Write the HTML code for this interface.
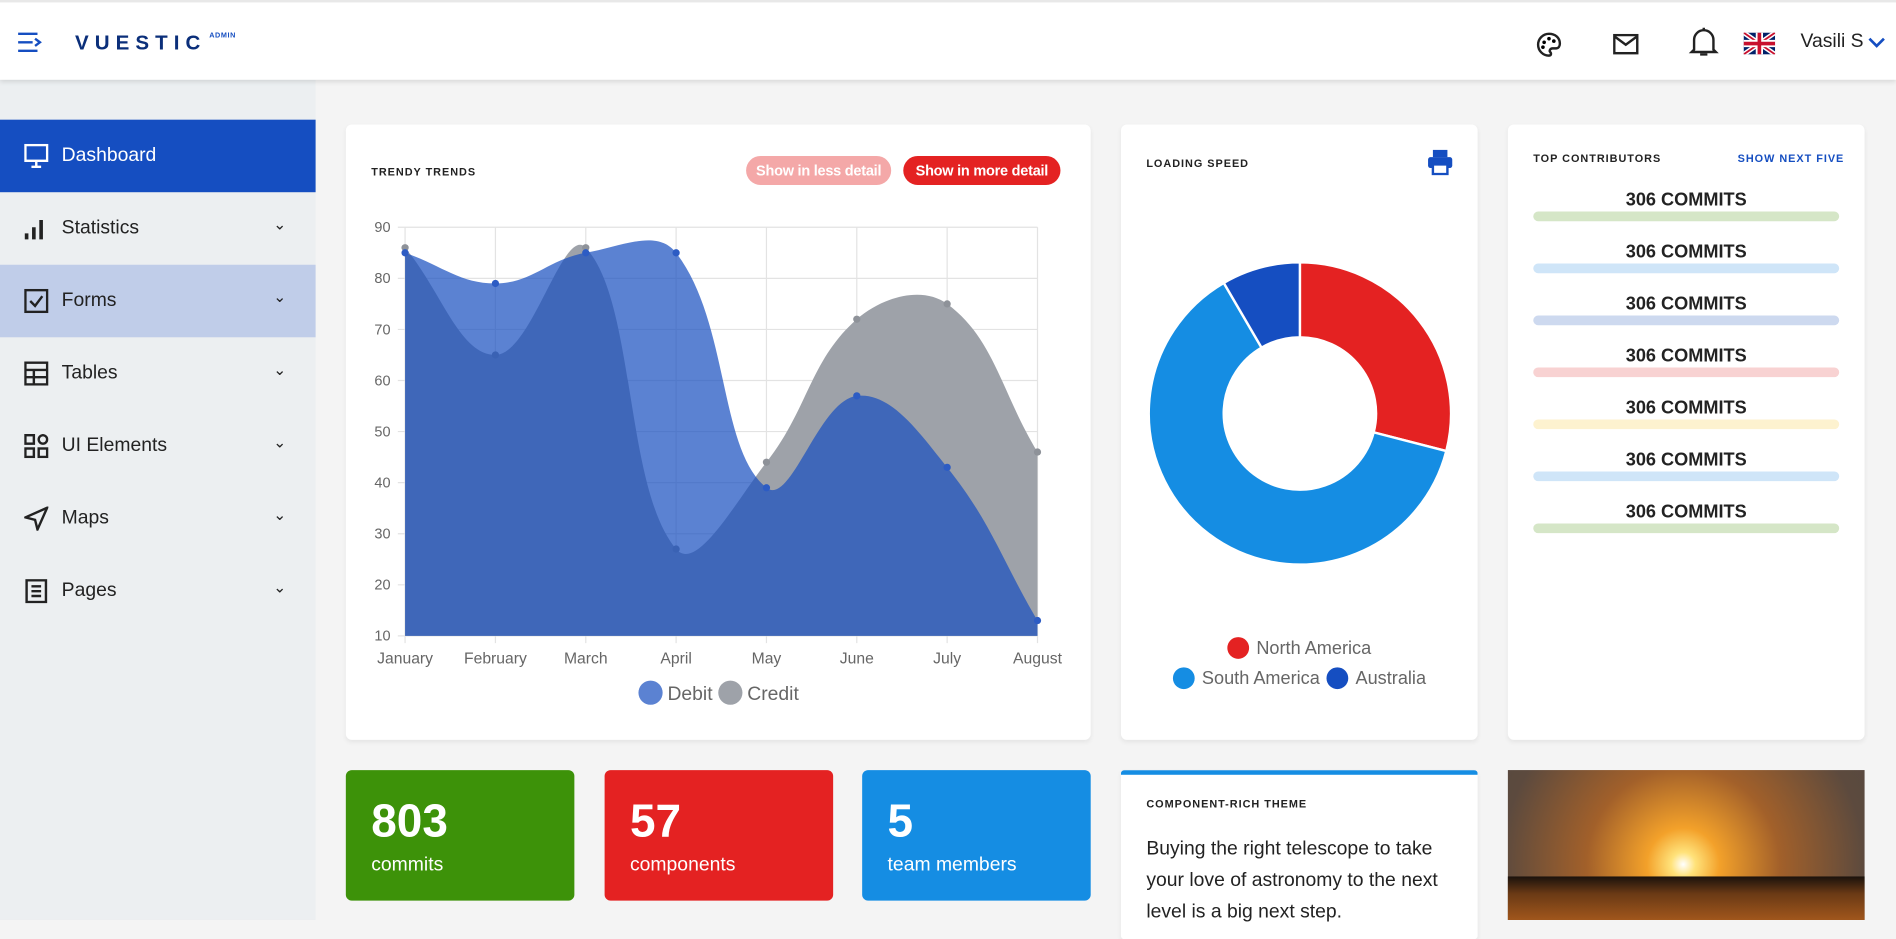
<!DOCTYPE html>
<html><head><meta charset="utf-8">
<style>
*{box-sizing:border-box;margin:0;padding:0}
html,body{width:1896px;height:920px;overflow:hidden;background:#f4f4f4;font-family:"Liberation Sans",sans-serif}
#root{position:absolute;left:0;top:0;width:1568px;height:761px;transform:scale(1.2092,1.2089);transform-origin:0 0;background:#f4f4f4}
.abs{position:absolute}
.hdr{left:0;top:0;width:1568px;height:66px;background:#fff;border-top:2px solid #e8e8e8;box-shadow:0 2px 4px rgba(0,0,0,.12);z-index:2}
.side{left:0;top:66px;width:261px;height:695px;background:#eceff1}
.nav{position:absolute;left:0;width:261px;height:60px;display:flex;align-items:center;font-size:16px;color:#222}
.nav svg{position:absolute;left:20px;top:20px}
.nav span.t{position:absolute;left:51px}
.nav span.c{position:absolute;left:226px;top:19px;font-size:13px}
.card{position:absolute;background:#fff;border-radius:5px;box-shadow:0 2px 4px rgba(0,0,0,.06)}
.ttl{position:absolute;font-size:9px;font-weight:bold;letter-spacing:.8px;color:#222}
.btn{position:absolute;height:24px;border-radius:12px;color:#fff;font-size:12px;font-weight:bold;display:flex;align-items:center;justify-content:center;letter-spacing:-.2px}
.cm{position:absolute;left:1268px;width:253px;text-align:center;font-size:15px;font-weight:bold;color:#222}
.bar{position:absolute;left:1268px;width:253px;height:8px;border-radius:4px}
.stat{position:absolute;top:637px;width:189px;height:108px;border-radius:5px;color:#fff}
.stat b{position:absolute;left:21px;top:22px;font-size:38px}
.stat span{position:absolute;left:21px;top:70px;font-size:16px}
</style></head><body>
<div id="root">
<div class="abs hdr">
  <svg class="abs" style="left:14px;top:24px" width="24" height="20"><path d="M1 2h16M1 9h12M1 16h16M15 6l4 3-4 3" stroke="#154ec1" stroke-width="2" fill="none"/></svg>
  <div class="abs" style="left:62px;top:24px;font-size:17px;font-weight:bold;letter-spacing:5px;color:#0b2f7a">VUESTIC</div>
  <div class="abs" style="left:173px;top:25px;font-size:6px;font-weight:bold;color:#154ec1;letter-spacing:.5px">ADMIN</div>
  <svg class="abs" style="left:1270px;top:24px" width="22" height="22"><path d="M11 2a9 9 0 1 0 0 18c2 0 2-2 1-3s0-3 2-3h3c2 0 3-2 3-4 0-5-4-8-9-8z" stroke="#222" stroke-width="2" fill="none"/><circle cx="7" cy="9" r="1.5"/><circle cx="11" cy="6" r="1.5"/><circle cx="15" cy="8" r="1.5"/><circle cx="6" cy="13" r="1.5"/></svg>
  <svg class="abs" style="left:1334px;top:26px" width="22" height="18"><rect x="1" y="1" width="19" height="15" stroke="#222" stroke-width="2" fill="none"/><path d="M1 2l9.5 7L20 2" stroke="#222" stroke-width="2" fill="none"/></svg>
  <svg class="abs" style="left:1396px;top:20px" width="26" height="26"><path d="M5 19V11a8 8 0 0 1 16 0v8l2 2H3z" stroke="#222" stroke-width="2" fill="none"/><path d="M10 23h6M13 1v2" stroke="#222" stroke-width="2"/></svg>
  <svg class="abs" style="left:1442px;top:25px" width="26" height="18"><rect width="26" height="18" fill="#012169"/><path d="M0 0l26 18M26 0L0 18" stroke="#fff" stroke-width="4"/><path d="M0 0l26 18M26 0L0 18" stroke="#c8102e" stroke-width="1.5"/><path d="M13 0v18M0 9h26" stroke="#fff" stroke-width="6"/><path d="M13 0v18M0 9h26" stroke="#c8102e" stroke-width="3"/></svg>
  <div class="abs" style="left:1489px;top:24px;font-size:16px;color:#222">Vasili S</div>
  <svg class="abs" style="left:1545px;top:28px" width="14" height="10"><path d="M1 2l6 6 6-6" stroke="#154ec1" stroke-width="2.2" fill="none"/></svg>
</div>

<div class="abs side">
  <div class="nav" style="top:33px;background:#154ec1;color:#fff"><svg width="20" height="20"><rect x="1" y="1" width="18" height="13" stroke="#fff" stroke-width="2" fill="none"/><path d="M10 14v4M6 19h8" stroke="#fff" stroke-width="2"/></svg><span class="t">Dashboard</span></div>
  <div class="nav" style="top:93px"><svg width="20" height="20"><path d="M2 19v-5M8 19V9M14 19V3" stroke="#222" stroke-width="3"/></svg><span class="t">Statistics</span><span class="c">⌄</span></div>
  <div class="nav" style="top:153px;background:#c0cde9"><svg width="20" height="20"><rect x="1" y="1" width="18" height="18" stroke="#222" stroke-width="2" fill="none"/><path d="M5 10l4 4 6-8" stroke="#222" stroke-width="2" fill="none"/></svg><span class="t">Forms</span><span class="c">⌄</span></div>
  <div class="nav" style="top:213px"><svg width="20" height="20"><rect x="1" y="1" width="18" height="18" stroke="#222" stroke-width="2" fill="none"/><path d="M1 7h18M1 13h18M8 7v12" stroke="#222" stroke-width="2"/></svg><span class="t">Tables</span><span class="c">⌄</span></div>
  <div class="nav" style="top:273px"><svg width="20" height="20"><rect x="1" y="1" width="7" height="7" stroke="#222" stroke-width="2" fill="none"/><rect x="1" y="12" width="7" height="7" stroke="#222" stroke-width="2" fill="none"/><circle cx="15.5" cy="4.5" r="3.5" stroke="#222" stroke-width="2" fill="none"/><rect x="12" y="12" width="7" height="7" stroke="#222" stroke-width="2" fill="none"/></svg><span class="t">UI Elements</span><span class="c">⌄</span></div>
  <div class="nav" style="top:333px"><svg width="20" height="20"><path d="M19 1L1 9l8 2 2 8z" stroke="#222" stroke-width="2" fill="none"/></svg><span class="t">Maps</span><span class="c">⌄</span></div>
  <div class="nav" style="top:393px"><svg width="20" height="20"><rect x="2" y="1" width="16" height="18" stroke="#222" stroke-width="2" fill="none"/><path d="M6 6h8M6 10h8M6 14h8" stroke="#222" stroke-width="2"/></svg><span class="t">Pages</span><span class="c">⌄</span></div>
</div>

<div class="card" style="left:286px;top:103px;width:616px;height:509px"></div>
<div class="ttl" style="left:307px;top:137px">TRENDY TRENDS</div>
<div class="btn" style="left:617px;top:129px;width:120px;background:#f4a8a8">Show in less detail</div>
<div class="btn" style="left:747px;top:129px;width:130px;background:#e42222">Show in more detail</div>
<svg id="chart" class="abs" style="left:0;top:0" width="1568" height="761"></svg>

<div class="card" style="left:927px;top:103px;width:295px;height:509px"></div>
<div class="ttl" style="left:948px;top:130px">LOADING SPEED</div>
<svg class="abs" style="left:1180px;top:123px" width="22" height="22"><rect x="5" y="1" width="12" height="6" fill="#154ec1"/><rect x="1" y="7" width="20" height="9" rx="2" fill="#154ec1"/><rect x="5" y="13" width="12" height="8" fill="#fff" stroke="#154ec1" stroke-width="2"/></svg>
<svg id="donut" class="abs" style="left:0;top:0" width="1568" height="761"></svg>

<div class="card" style="left:1247px;top:103px;width:295px;height:509px"></div>
<div class="ttl" style="left:1268px;top:126px">TOP CONTRIBUTORS</div>
<div class="ttl" style="left:1437px;top:126px;color:#154ec1">SHOW NEXT FIVE</div>
<div id="contribs"></div>

<div class="stat" style="left:286px;background:#3d9209"><b>803</b><span>commits</span></div>
<div class="stat" style="left:500px;background:#e42222"><b>57</b><span>components</span></div>
<div class="stat" style="left:713px;background:#158de3"><b>5</b><span>team members</span></div>
<div class="card" style="left:927px;top:637px;width:295px;height:140px;border-top:4px solid #158de3;border-radius:3px"></div>
<div class="ttl" style="left:948px;top:660px">COMPONENT-RICH THEME</div>
<div class="abs" style="left:948px;top:690px;width:260px;font-size:16px;line-height:26px;color:#222">Buying the right telescope to take your love of astronomy to the next level is a big next step.</div>
<div class="abs" style="left:1247px;top:637px;width:295px;height:124px;background:radial-gradient(circle at 145px 78px,#fff 0,#ffe27a 10px,#f3a12a 30px,#a2602a 80px,#5c4a3e 150px,#4a4444 260px)"><div style="position:absolute;left:0;top:88px;width:295px;height:36px;background:linear-gradient(#1a120c,#6b3a15 40%,#a0561c)"></div></div>
</div>

<script>
const months=["January","February","March","April","May","June","July","August"];
const debit=[85,79,85,85,39,57,43,13];
const credit=[86,65,86,27,44,72,75,46];
const yTicks=[10,20,30,40,50,60,70,80,90];
const donutLabels=["North America","South America","Australia"];
const donutValues=[29,62.6,8.4];
const commitCounts=[306,306,306,306,306,306,306];

const NS="http://www.w3.org/2000/svg";
function mk(parent,tag,attrs){const e=document.createElementNS(NS,tag);for(const k in attrs)e.setAttribute(k,attrs[k]);parent.appendChild(e);return e;}
const X0=335,X1=858,Y0=526,Y1=188;
function xs(i){return X0+i*(X1-X0)/(months.length-1);}
function ys(v){return Y0-(v-10)/(90-10)*(Y0-Y1);}
const svg=document.getElementById('chart');
yTicks.forEach(t=>{
  const l=mk(svg,'line',{x1:329,x2:X1,y1:ys(t),y2:ys(t),stroke:'#e3e3e3'});
  
  const tx=mk(svg,'text',{x:323,y:ys(t)+4,'text-anchor':'end','font-size':12,fill:'#666','font-family':'Liberation Sans'});
  tx.textContent=t;
});
months.forEach((m,i)=>{
  const l=mk(svg,'line',{x1:xs(i),x2:xs(i),y1:Y1,y2:Y0+6,stroke:'#e3e3e3'});
  
  const tx=mk(svg,'text',{x:xs(i),y:549,'text-anchor':'middle','font-size':13,fill:'#666','font-family':'Liberation Sans'});
  tx.textContent=m;
});
function curve(vals){
  const p=vals.map((v,i)=>[xs(i),ys(v)]);const t=0.4;const cps=[];
  for(let i=0;i<p.length;i++){
    const a=p[Math.max(0,i-1)],b=p[i],c=p[Math.min(p.length-1,i+1)];
    const d01=Math.hypot(b[0]-a[0],b[1]-a[1]),d12=Math.hypot(c[0]-b[0],c[1]-b[1]);
    let fa=d01/(d01+d12)||0,fb=d12/(d01+d12)||0;fa*=t;fb*=t;
    cps.push({p:[b[0]-fa*(c[0]-a[0]),b[1]-fa*(c[1]-a[1])],n:[b[0]+fb*(c[0]-a[0]),b[1]+fb*(c[1]-a[1])]});
  }
  let d='M'+p[0][0]+' '+p[0][1];
  for(let i=1;i<p.length;i++){d+=' C'+cps[i-1].n.join(' ')+' '+cps[i].p.join(' ')+' '+p[i].join(' ');}
  return {d,p};
}
function series(vals,fill,pt,name){
  const c=curve(vals);
  const a=mk(svg,'path',{d:c.d+' L'+xs(vals.length-1)+' '+Y0+' L'+X0+' '+Y0+' Z',fill:fill});
  
  c.p.forEach(q=>{const d=mk(svg,'circle',{cx:q[0],cy:q[1],r:3,fill:pt});});
}
series(credit,'#9ea2a9','#8e9299','credit');
series(debit,'rgba(24,79,192,0.71)','#2d5cc4','debit');
[[538,'#5b82d2','Debit',552],[604,'#9ea2a9','Credit',618]].forEach(l=>{
  const c=mk(svg,'circle',{cx:l[0],cy:573,r:10,fill:l[1]});
  const t=mk(svg,'text',{x:l[3],y:579,'font-size':16,fill:'#666','font-family':'Liberation Sans'});t.textContent=l[2];
});

const dsvg=document.getElementById('donut');
const cx=1075,cy=342,R=125,r=63;const colors=['#e42222','#158de3','#154ec1'];
const tot=donutValues.reduce((a,b)=>a+b,0);let ang=0;
donutValues.forEach((v,i)=>{
  const a0=ang,a1=ang+v/tot*2*Math.PI;ang=a1;
  const P=(rad,a)=>[cx+rad*Math.sin(a),cy-rad*Math.cos(a)];
  const L=(a1-a0)>Math.PI?1:0;
  const o0=P(R,a0),o1=P(R,a1),i1=P(r,a1),i0=P(r,a0);
  const s=mk(dsvg,'path',{d:`M${o0} A${R} ${R} 0 ${L} 1 ${o1} L${i1} A${r} ${r} 0 ${L} 0 ${i0} Z`,fill:colors[i],stroke:'#fff','stroke-width':2});
  
});
[[1024,536,0],[979,561,1],[1106,561,2]].forEach(l=>{
  const c=mk(dsvg,'circle',{cx:l[0],cy:l[1],r:9,fill:colors[l[2]]});
  const t=mk(dsvg,'text',{x:l[0]+15,y:l[1]+5,'font-size':15,fill:'#666','font-family':'Liberation Sans'});t.textContent=donutLabels[l[2]];
});

const barColors=['#d5e6c7','#cfe5f8','#cdd9ef','#f8d2d2','#fdf2cf','#cfe5f8','#d5e6c7'];
const cont=document.getElementById('contribs');
commitCounts.forEach((n,i)=>{
  const t=document.createElement('div');t.className='cm';t.style.top=(157+i*43)+'px';t.textContent=n+' COMMITS';
  
  
  cont.appendChild(t);
  const b=document.createElement('div');b.className='bar';b.style.top=(175+i*43)+'px';b.style.background=barColors[i];
  
  
  cont.appendChild(b);
});
</script>
</body></html>
